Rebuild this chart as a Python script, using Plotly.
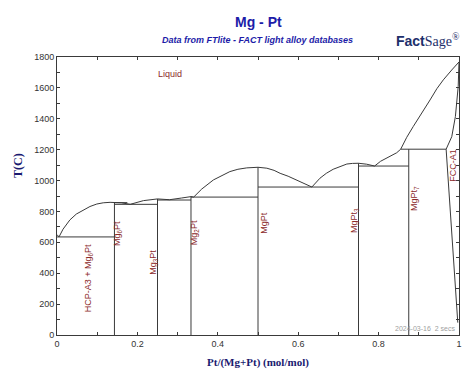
import plotly.graph_objects as go

# ---------------- data ----------------
liquidus_x = [0.0, 0.005, 0.015, 0.032, 0.048, 0.065, 0.082, 0.099, 0.115, 0.132, 0.1429,
              0.16, 0.182, 0.215, 0.25, 0.28, 0.31, 0.3333, 0.340, 0.36, 0.389, 0.41, 0.43,
              0.45, 0.472, 0.5, 0.522, 0.54, 0.555, 0.575, 0.596, 0.615, 0.634, 0.654, 0.67,
              0.687, 0.705, 0.721, 0.735, 0.75, 0.77, 0.79, 0.805, 0.825, 0.845, 0.855,
              0.87, 0.886, 0.907, 0.928, 0.945, 0.961, 0.982, 1.0]
liquidus_T = [650, 635, 685, 745, 783, 810, 832, 848, 856, 859, 859,
              856, 846, 870, 881, 876, 887, 896, 893, 945, 1004, 1034, 1058,
              1073, 1082, 1086, 1080, 1066, 1047, 1028, 1004, 982, 958, 1015, 1047,
              1073, 1093, 1107, 1111, 1112, 1106, 1094, 1125, 1155, 1180, 1203,
              1280, 1349, 1440, 1522, 1595, 1652, 1716, 1768]

fcc_solidus_x = [0.968, 0.982, 0.991, 0.998, 1.0]
fcc_solidus_T = [1203, 1284, 1414, 1608, 1768]
fcc_solvus_x = [0.968, 0.997]
fcc_solvus_T = [1203, 80]

# invariant lines: start x, end x, temperature
inv_x0 = [0.0, 0.1429, 0.1429, 0.25, 0.3333, 0.5, 0.75, 0.855]
inv_x1 = [0.1429, 0.175, 0.25, 0.3333, 0.5, 0.75, 0.875, 0.968]
inv_T = [635, 857, 846, 874, 893, 958, 1094, 1203]

# stoichiometric compounds
comp_x = [0.1429, 0.25, 0.3333, 0.5, 0.75, 0.875]
comp_Tmax = [859, 881, 896, 1086, 1112, 1203]

# phase labels
lab_text = ["Liquid", "HCP-A3 + Mg<sub>6</sub>Pt", "Mg<sub>6</sub>Pt", "Mg<sub>3</sub>Pt",
            "Mg<sub>2</sub>Pt", "MgPt", "MgPt<sub>3</sub>", "MgPt<sub>7</sub>", "FCC-A1"]
lab_x = [0.281, 0.078, 0.152, 0.241, 0.341, 0.516, 0.739, 0.888, 0.986]
lab_T = [1690, 369, 654, 473, 660, 730, 738, 887, 1098]
lab_angle = [0, -90, -90, -90, -90, -90, -90, -90, -90]

x_ticks = [0, 0.2, 0.4, 0.6, 0.8, 1]
x_ticktext = ["0", "0.2", "0.4", "0.6", "0.8", "1"]
y_ticks = [0, 200, 400, 600, 800, 1000, 1200, 1400, 1600, 1800]

# ---------------- figure ----------------
LC = "#3a3a3a"
fig = go.Figure()

fig.add_trace(go.Scatter(x=liquidus_x, y=liquidus_T, mode="lines",
                         line=dict(color=LC, width=1), hoverinfo="skip"))
fig.add_trace(go.Scatter(x=fcc_solidus_x, y=fcc_solidus_T, mode="lines",
                         line=dict(color=LC, width=1), hoverinfo="skip"))
fig.add_trace(go.Scatter(x=fcc_solvus_x, y=fcc_solvus_T, mode="lines",
                         line=dict(color=LC, width=1), hoverinfo="skip"))

hx, hy = [], []
for a, b, t in zip(inv_x0, inv_x1, inv_T):
    hx += [a, b, None]
    hy += [t, t, None]
fig.add_trace(go.Scatter(x=hx, y=hy, mode="lines",
                         line=dict(color=LC, width=1), hoverinfo="skip"))

vx, vy = [], []
for a, t in zip(comp_x, comp_Tmax):
    vx += [a, a, None]
    vy += [0, t, None]
fig.add_trace(go.Scatter(x=vx, y=vy, mode="lines",
                         line=dict(color=LC, width=1), hoverinfo="skip"))

for t, x, y, ang in zip(lab_text, lab_x, lab_T, lab_angle):
    fig.add_annotation(x=x, y=y, xref="x", yref="y", text=t, textangle=ang,
                       showarrow=False, xanchor="center", yanchor="middle",
                       font=dict(family="Liberation Sans, Arial", size=9, color="#8b2a2a"))

# page-pixel positioned texts (converted below)
page_texts = [
    (258, 22, "<b>Mg - Pt</b>", 0, dict(family="Liberation Sans, Arial", size=14, color="#1c1ca8")),
    (257, 40, "<b><i>Data from FTlite - FACT light alloy databases</i></b>", 0,
     dict(family="Liberation Sans, Arial", size=9, color="#1c1ca8")),
    (428, 40, "<span style='font-family:Liberation Sans;font-weight:bold'>Fact</span>Sage<sup>®</sup>", 0,
     dict(family="Liberation Serif, Times New Roman", size=14, color="#1d2f6b")),
    (18, 166, "<b>T(C)</b>", -90, dict(family="Liberation Serif, Times New Roman", size=12, color="#1a1a70")),
    (258, 362, "<b>Pt/(Mg+Pt) (mol/mol)</b>", 0,
     dict(family="Liberation Serif, Times New Roman", size=11, color="#1a1a70")),
    (425, 328, "2024-03-16  2 secs", 0, dict(family="Liberation Sans, Arial", size=7, color="#a0a0a0")),
]

# The page has an 8px body margin; compensate so the plot area sits at
# x 57..459, y 57..335 in the 474x373 window.
OFF = 8
W, H = 474 - OFF, 373 - OFF
L, R, T, B = 57 - OFF, 15, 57 - OFF, 38
pw, ph = W - L - R, H - T - B
for px, py, txt, ang, f in page_texts:
    fig.add_annotation(x=(px - 57) / pw, y=(373 - py - B) / ph, xref="paper", yref="paper",
                       xanchor="center", yanchor="middle",
                       text=txt, textangle=ang, showarrow=False, font=f)

fig.update_layout(
    width=W, height=H,
    margin=dict(l=L, r=R, t=T, b=B),
    plot_bgcolor="white", paper_bgcolor="white",
    showlegend=False,
    xaxis=dict(range=[0, 1], tickvals=x_ticks, ticktext=x_ticktext,
               ticks="inside", ticklen=3, tickcolor=LC, mirror="ticks",
               showline=True, linecolor=LC, linewidth=1, showgrid=False, zeroline=False,
               minor=dict(ticks="inside", dtick=0.1, tick0=0, ticklen=3, tickcolor=LC),
               tickfont=dict(family="Liberation Sans, Arial", size=9, color="#333333")),
    yaxis=dict(range=[0, 1800], tickvals=y_ticks,
               ticks="inside", ticklen=3, tickcolor=LC, mirror="ticks",
               showline=True, linecolor=LC, linewidth=1, showgrid=False, zeroline=False,
               minor=dict(ticks="inside", dtick=100, tick0=0, ticklen=3, tickcolor=LC),
               tickfont=dict(family="Liberation Sans, Arial", size=9, color="#333333")),
)

fig.write_html("out.html")
